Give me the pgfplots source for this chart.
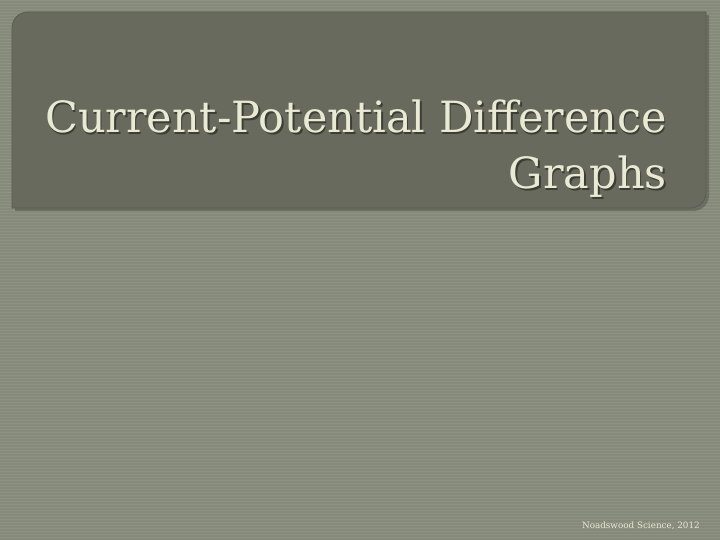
\documentclass[border=0pt]{standalone}
\usepackage{pgfplots}
\pgfplotsset{compat=1.18}
\usepackage{fontspec}
\setmainfont{DejaVu Serif}
\definecolor{bg}{RGB}{134,138,122}
\definecolor{stripe}{RGB}{148,152,136}
\definecolor{box}{RGB}{104,106,94}
\definecolor{boxedge}{RGB}{90,92,82}
\definecolor{txt}{RGB}{232,234,212}
\definecolor{shadow}{RGB}{50,52,44}
\begin{document}
\begin{tikzpicture}
\begin{axis}[
  width=720pt, height=540pt, scale only axis,
  xmin=0, xmax=720, ymin=0, ymax=540, y dir=reverse,
  hide axis, clip=true]
\fill[bg] (axis cs:0,0) rectangle (axis cs:720,540);
\pgfplotsinvokeforeach{0,3,...,540}{
  \draw[stripe, line width=0.8pt, opacity=0.6] (axis cs:0,#1) -- (axis cs:720,#1);
}
% shadow of the box
\fill[black, opacity=0.22]
  (axis cs:15,30) .. controls (axis cs:15,21) and (axis cs:22,15) .. (axis cs:31,15)
  -- (axis cs:709,15) -- (axis cs:709,195)
  .. controls (axis cs:709,204) and (axis cs:702,211) .. (axis cs:693,211)
  -- (axis cs:15,211) -- cycle;
% box with diagonal rounded corners
\path[fill=box, draw=boxedge, line width=0.8pt]
  (axis cs:12,28) .. controls (axis cs:12,19) and (axis cs:19,12) .. (axis cs:28,12)
  -- (axis cs:706,12) -- (axis cs:706,192)
  .. controls (axis cs:706,201) and (axis cs:699,208) .. (axis cs:690,208)
  -- (axis cs:12,208) -- cycle;
% title with shadow
\node[anchor=base east, text=shadow, opacity=0.8, font=\fontsize{43}{52}\selectfont, inner sep=0pt]
  at (axis cs:668.5,134.5) {Current-Potential Difference};
\node[anchor=base east, text=txt, font=\fontsize{43}{52}\selectfont, inner sep=0pt]
  at (axis cs:667,133) {Current-Potential Difference};
\node[anchor=base east, text=shadow, opacity=0.8, font=\fontsize{43}{52}\selectfont, inner sep=0pt]
  at (axis cs:668.5,190.5) {Graphs};
\node[anchor=base east, text=txt, font=\fontsize{43}{52}\selectfont, inner sep=0pt]
  at (axis cs:667,189) {Graphs};
% footer
\node[anchor=base east, text=txt, font=\fontsize{8.8}{10}\selectfont, inner sep=0pt]
  at (axis cs:700,528) {Noadswood Science, 2012};
\end{axis}
\end{tikzpicture}
\end{document}
